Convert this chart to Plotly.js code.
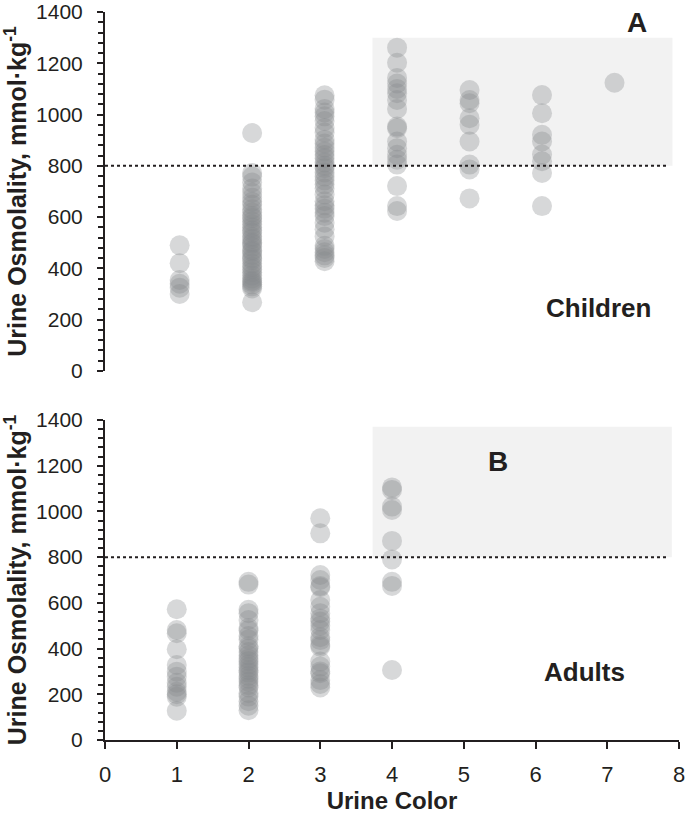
<!DOCTYPE html>
<html>
<head>
<meta charset="utf-8">
<script src="https://cdn.plot.ly/plotly-3.0.1.min.js"></script>
<style>
  html, body { margin: 0; padding: 0; background: #fff; }
  #chart { width: 685px; height: 814px; }
</style>
</head>
<body>
<div id="chart"></div>
<script>
// ---- Data ----
const childCategories = [1, 2, 3, 4, 5, 6, 7];
const childrenC1 = [490, 420, 355, 340, 325, 300];
const childrenC2 = [928, 772, 758, 735, 712, 695, 676, 660, 648, 631, 618, 604, 597, 583, 571, 560, 548, 539, 523, 515, 502, 496, 484, 471, 465, 452, 440, 433, 418, 406, 397, 385, 372, 361, 352, 346, 338, 330, 322, 268];
const childrenC3 = [1075, 1058, 1022, 1008, 993, 975, 948, 930, 902, 887, 871, 856, 842, 830, 813, 800, 791, 774, 758, 743, 728, 712, 688, 662, 646, 633, 617, 604, 578, 553, 524, 488, 476, 463, 451, 441, 428];
const childrenC4 = [1261, 1202, 1143, 1121, 1100, 1083, 1057, 1022, 953, 947, 895, 869, 843, 824, 805, 721, 643, 624];
const childrenC5 = [1096, 1057, 1044, 986, 960, 895, 805, 786, 673];
const childrenC6 = [1076, 1005, 921, 895, 844, 818, 772, 643];
const childrenC7 = [1124];

const adultCategories = [1, 2, 3, 4];
const adultsC1 = [572, 481, 467, 397, 328, 299, 277, 250, 233, 211, 200, 189, 128];
const adultsC2 = [692, 680, 570, 555, 525, 490, 480, 455, 440, 410, 400, 385, 370, 355, 345, 330, 318, 305, 295, 280, 268, 255, 240, 230, 205, 190, 170, 150, 130];
const adultsC3 = [970, 904, 722, 700, 674, 668, 612, 583, 555, 532, 518, 500, 481, 450, 437, 416, 408, 343, 321, 300, 292, 262, 245, 230];
const adultsC4 = [1105, 1094, 1021, 1006, 871, 790, 692, 674, 306];

const xTickLabels = ['0', '1', '2', '3', '4', '5', '6', '7', '8'];
const yTickValues = [0, 200, 400, 600, 800, 1000, 1200, 1400];
const threshold = 800;
const childBoxTop = 1300;
const adultBoxTop = 1370;

// ---- Build traces ----
function flatten(cats, cols) {
  const xs = [], ys = [];
  cats.forEach((c, i) => cols[i].forEach(v => { xs.push(c); ys.push(v); }));
  return { xs, ys };
}
const child = flatten(childCategories, [childrenC1, childrenC2, childrenC3, childrenC4, childrenC5, childrenC6, childrenC7]);
const adult = flatten(adultCategories, [adultsC1, adultsC2, adultsC3, adultsC4]);

const INK = '#231f20';
const FONT = '"Liberation Sans", Arial, Helvetica, sans-serif';
const markerStyle = { size: 20, color: 'rgba(135,137,140,0.33)', line: { width: 0 } };

const traces = [
  { type: 'scatter', mode: 'markers', x: child.xs, y: child.ys, xaxis: 'x', yaxis: 'y', marker: markerStyle, hoverinfo: 'x+y' },
  { type: 'scatter', mode: 'markers', x: adult.xs, y: adult.ys, xaxis: 'x2', yaxis: 'y2', marker: markerStyle, hoverinfo: 'x+y' }
];

const yTitle = 'Urine Osmolality, mmol·kg<sup>-1</sup>';

function yAxis(domain) {
  return {
    domain: domain, range: [0, 1400], tickvals: yTickValues,
    showline: true, linecolor: INK, linewidth: 2,
    ticks: 'outside', ticklen: 6, tickwidth: 2, tickcolor: INK,
    minor: { dtick: 40, tick0: 0, ticks: 'outside', ticklen: 5, tickwidth: 2, tickcolor: INK, showgrid: false },
    showgrid: false, zeroline: false,
    tickfont: { family: FONT, size: 21, color: INK },
    ticklabelstandoff: 10,
    ticklabeloverflow: 'allow',
    title: { text: yTitle, font: { family: FONT, size: 25, color: INK, weight: 'bold' }, standoff: 4 },
    fixedrange: true
  };
}
function innerTicks(over) {
  return {
    overlaying: over, anchor: over === 'y' ? 'x' : 'x2', side: 'left',
    range: [0, 1400], tickvals: yTickValues, showticklabels: false,
    ticks: 'inside', ticklen: 6, tickwidth: 2, tickcolor: INK,
    showline: false, showgrid: false, zeroline: false, fixedrange: true
  };
}

const layout = {
  width: 685, height: 814,
  margin: { l: 105, r: 6, t: 12, b: 74 },
  paper_bgcolor: '#ffffff', plot_bgcolor: 'rgba(0,0,0,0)',
  showlegend: false,
  font: { family: FONT, color: INK },
  xaxis: { domain: [0, 1], anchor: 'y', range: [-0.03, 7.89], visible: false, fixedrange: true },
  yaxis: yAxis([0.5069, 1]),
  xaxis2: {
    domain: [0, 1], anchor: 'y2', range: [0, 8],
    tickvals: xTickLabels.map(Number), ticktext: xTickLabels,
    showline: true, linecolor: INK, linewidth: 2,
    ticks: 'outside', ticklen: 7, tickwidth: 2, tickcolor: INK,
    showgrid: false, zeroline: false,
    tickfont: { family: FONT, size: 22, color: INK },
    ticklabelstandoff: 7,
    ticklabeloverflow: 'allow',
    title: { text: 'Urine Color', font: { family: FONT, size: 24, color: INK, weight: 'bold' }, standoff: 6 },
    fixedrange: true
  },
  yaxis2: yAxis([0, 0.4396]),
  yaxis3: innerTicks('y'),
  yaxis4: innerTicks('y2'),
  shapes: [
    { type: 'rect', xref: 'x', yref: 'y', x0: 3.66, x1: 7.80, y0: threshold, y1: childBoxTop, fillcolor: '#f2f2f2', line: { width: 0 }, layer: 'below' },
    { type: 'rect', xref: 'x2', yref: 'y2', x0: 3.73, x1: 7.90, y0: threshold, y1: adultBoxTop, fillcolor: '#f2f2f2', line: { width: 0 }, layer: 'below' },
    { type: 'line', xref: 'x', yref: 'y', x0: -0.03, x1: 7.74, y0: threshold, y1: threshold, line: { color: INK, width: 2, dash: 'dot' }, layer: 'above' },
    { type: 'line', xref: 'x2', yref: 'y2', x0: 0, x1: 7.85, y0: threshold, y1: threshold, line: { color: INK, width: 2, dash: 'dot' }, layer: 'above' }
  ],
  annotations: [
    { text: '<b>A</b>', xref: 'x domain', yref: 'y domain', x: 0.927, y: 0.972, xanchor: 'center', yanchor: 'middle', showarrow: false, font: { family: FONT, size: 28, color: INK } },
    { text: '<b>Children</b>', xref: 'x domain', yref: 'y domain', x: 0.86, y: 0.175, xanchor: 'center', yanchor: 'middle', showarrow: false, font: { family: FONT, size: 26, color: INK } },
    { text: '<b>B</b>', xref: 'x2 domain', yref: 'y2 domain', x: 0.685, y: 0.869, xanchor: 'center', yanchor: 'middle', showarrow: false, font: { family: FONT, size: 28, color: INK } },
    { text: '<b>Adults</b>', xref: 'x2 domain', yref: 'y2 domain', x: 0.836, y: 0.2125, xanchor: 'center', yanchor: 'middle', showarrow: false, font: { family: FONT, size: 26, color: INK } }
  ]
};

Plotly.newPlot('chart', traces, layout, { displayModeBar: false, staticPlot: true });
</script>
</body>
</html>
